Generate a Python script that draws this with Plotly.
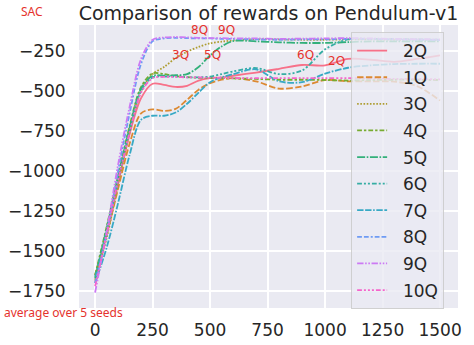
import plotly.graph_objects as go

# Training episodes (shared x grid) and smoothed mean episode reward per Q-ensemble size
episodes = [0, 50, 100, 150, 200, 250, 300, 350, 400, 450, 500, 550, 600,
            700, 800, 900, 1000, 1100, 1200, 1300, 1400, 1500]

labels = ["2Q", "1Q", "3Q", "4Q", "5Q", "6Q", "7Q", "8Q", "9Q", "10Q"]

reward_2q = [-1690, -1400, -1080, -770, -545, -455, -462, -475, -468, -435, -420, -415, -405,
             -385, -362, -338, -340, -300, -305, -318, -300, -278]
reward_1q = [-1650, -1400, -1110, -830, -640, -615, -625, -612, -555, -492, -452, -430, -420,
             -440, -485, -472, -432, -440, -440, -442, -470, -560]
reward_3q = [-1680, -1420, -1080, -760, -500, -395, -350, -295, -255, -225, -202, -192, -185,
             -176, -178, -180, -180, -178, -178, -180, -180, -182]
reward_4q = [-1650, -1350, -1030, -720, -475, -390, -395, -408, -414, -418, -420, -420, -422,
             -425, -430, -430, -432, -435, -432, -430, -430, -432]
reward_5q = [-1670, -1360, -1040, -730, -485, -405, -405, -402, -395, -350, -278, -222, -188,
             -190, -196, -200, -200, -195, -190, -190, -190, -190]
reward_6q = [-1660, -1380, -1060, -750, -500, -415, -410, -410, -415, -415, -410, -395, -378,
             -357, -395, -372, -240, -178, -175, -175, -178, -180]
reward_7q = [-1700, -1480, -1200, -900, -680, -655, -655, -635, -580, -510, -445, -415, -395,
             -365, -440, -445, -392, -355, -340, -332, -330, -330]
reward_8q = [-1700, -1400, -1000, -640, -330, -190, -172, -168, -170, -172, -172, -175, -175,
             -178, -180, -178, -178, -175, -175, -178, -180, -182]
reward_9q = [-1760, -1380, -960, -600, -300, -180, -166, -163, -165, -168, -170, -170, -172,
             -172, -175, -173, -172, -170, -172, -175, -176, -178]
reward_10q = [-1720, -1400, -1060, -760, -510, -420, -412, -412, -415, -415, -418, -418, -420,
              -420, -420, -420, -420, -420, -422, -425, -425, -428]

series = [reward_2q, reward_1q, reward_3q, reward_4q, reward_5q,
          reward_6q, reward_7q, reward_8q, reward_9q, reward_10q]

# Curve labels (name, x, y)
callout_names = ["8Q", "9Q", "3Q", "5Q", "6Q", "2Q"]
callout_x = [456, 570, 370, 509, 913, 1048]
callout_y = [-119, -119, -275, -275, -275, -312]

x_ticks = [0, 250, 500, 750, 1000, 1250, 1500]
y_ticks = [-1750, -1500, -1250, -1000, -750, -500, -250]

colors = ["#f77189", "#dc8932", "#ae9d31", "#77ab31", "#33b07a",
          "#36ada4", "#38a9c5", "#6e9bf4", "#cc7af4", "#f565cc"]
dashes = ["solid",
          "6.4px,2.4px",
          "1.6px,1.6px",
          "4.8px,2px,2.4px,2px",
          "8px,1.6px,1.6px,1.6px",
          "4.8px,2px,2px,2px,2px,2px",
          "6.4px,1.6px,6.4px,1.6px,1.6px,1.6px",
          "4.8px,2px,4.8px,2px,2px,2px",
          "6.4px,1.6px,1.6px,1.6px,1.6px,1.6px",
          "4.8px,2px,2px,2px,2px,2px,2px,2px"]

NBSP = "\u00a0"

fig = go.Figure()
for name, ys, col, dsh in zip(labels, series, colors, dashes):
    fig.add_trace(go.Scatter(
        x=episodes, y=ys, name=NBSP * 2 + name, mode="lines", legendgroup=name,
        line=dict(color=col, width=1.8, dash=dsh, shape="spline", smoothing=0.9),
    ))

red = "#e5322d"
for t, cx, cy in zip(callout_names, callout_x, callout_y):
    fig.add_annotation(x=cx, y=cy, text=t, showarrow=False,
                       font=dict(family="DejaVu Sans", size=12, color=red))

fig.add_annotation(xref="paper", yref="paper", x=-0.125, y=1.047, xanchor="center",
                   yanchor="middle", text="SAC", showarrow=False,
                   font=dict(family="Noto Sans", size=12, color=red))
fig.add_annotation(xref="paper", yref="paper", x=-0.2, y=-0.016, xanchor="left",
                   yanchor="middle", text="average over 5 seeds", showarrow=False,
                   borderpad=0,
                   font=dict(family="Noto Sans", size=12, color=red))

axis_font = dict(family="DejaVu Sans", size=17, color="#262626")
fig.update_layout(
    width=474, height=345,
    margin=dict(l=79, r=16, t=25, b=37, autoexpand=False),
    paper_bgcolor="white",
    plot_bgcolor="#eaeaf2",
    title=dict(text="Comparison of rewards on Pendulum-v1", x=0.5, xref="paper",
               xanchor="center", y=0.96, yref="container", yanchor="middle",
               font=dict(family="DejaVu Sans", size=19, color="#262626")),
    showlegend=True,
    legend=dict(x=0.718, y=0.975, xanchor="left", yanchor="top",
                bgcolor="rgba(234,234,242,0.8)", bordercolor="rgba(204,204,204,0.9)",
                borderwidth=1, tracegroupgap=1.5, traceorder="grouped",
                font=dict(family="DejaVu Sans", size=17, color="#262626")),
    xaxis=dict(range=[-70, 1578], tickvals=x_ticks, showgrid=True, gridcolor="white",
               gridwidth=1.5, zeroline=False, ticks="outside", ticklen=7,
               tickcolor="rgba(0,0,0,0)", tickfont=axis_font, showline=False,
               automargin=False),
    yaxis=dict(range=[-1856, -88], tickvals=y_ticks, showgrid=True, gridcolor="white",
               gridwidth=1.5, zeroline=False, ticks="outside", ticklen=9,
               tickcolor="rgba(0,0,0,0)", tickfont=axis_font, showline=False,
               automargin=False),
)

fig.write_html("out.html")
